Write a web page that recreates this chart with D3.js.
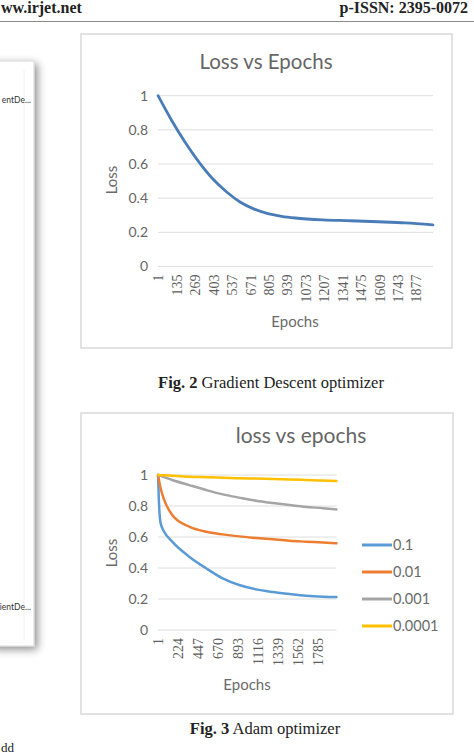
<!DOCTYPE html>
<html>
<head>
<meta charset="utf-8">
<script src="https://cdn.jsdelivr.net/npm/d3@7"></script>
<style>
  html, body { margin: 0; padding: 0; background: #fff; overflow: hidden; }
  svg { display: block; }
  .sans { font-family: Lato, "Open Sans", sans-serif; fill: #6b6b6b; }
  .serif { font-family: "Liberation Serif", "DejaVu Serif", serif; fill: #222; }
</style>
</head>
<body>
<div id="page"></div>
<script>
// Fig. 2 - gradient descent
var gdEpochs = [1, 100, 200, 300, 400, 500, 600, 700, 800, 900, 1000, 1200, 1400, 1600, 1800, 2000];
var gdLoss   = [1.0, 0.855, 0.725, 0.61, 0.512, 0.436, 0.376, 0.336, 0.31, 0.294, 0.284, 0.273, 0.268, 0.262, 0.255, 0.244];
var gdTicks  = [1, 135, 269, 403, 537, 671, 805, 939, 1073, 1207, 1341, 1475, 1609, 1743, 1877];

// Fig. 3 - adam, one series per learning rate
var adamEpochs = [1, 10, 30, 70, 160, 350, 540, 725, 910, 1100, 1290, 1475, 1660, 1850, 2000];
var adamRates  = ['0.1', '0.01', '0.001', '0.0001'];
var adamLoss01    = [1.0, 0.84, 0.688, 0.634, 0.57, 0.473, 0.398, 0.333, 0.29, 0.262, 0.245, 0.232, 0.221, 0.215, 0.213];
var adamLoss001   = [1.0, 0.97, 0.914, 0.839, 0.742, 0.667, 0.634, 0.617, 0.604, 0.594, 0.585, 0.576, 0.57, 0.564, 0.559];
var adamLoss0001  = [1.0, 0.998, 0.994, 0.986, 0.968, 0.935, 0.903, 0.875, 0.854, 0.834, 0.819, 0.806, 0.794, 0.786, 0.778];
var adamLoss00001 = [1.0, 1.0, 0.999, 0.998, 0.995, 0.989, 0.986, 0.983, 0.979, 0.977, 0.974, 0.971, 0.968, 0.964, 0.961];
var adamTicks  = [1, 224, 447, 670, 893, 1116, 1339, 1562, 1785];

var yTicks = [0, 0.2, 0.4, 0.6, 0.8, 1];

var W = 474, H = 754;
var svg = d3.select('#page').append('svg').attr('width', W).attr('height', H);

// page furniture: running header, cut-off neighbour figure
svg.append('text').attr('class', 'serif').attr('x', 1).attr('y', 13)
  .attr('font-size', 16).attr('font-weight', 'bold').text('ww.irjet.net');
svg.append('text').attr('class', 'serif').attr('x', 468).attr('y', 13)
  .attr('font-size', 16).attr('font-weight', 'bold').attr('text-anchor', 'end').text('p-ISSN: 2395-0072');
svg.append('line').attr('x1', 0).attr('x2', W).attr('y1', 21.5).attr('y2', 21.5)
  .attr('stroke', '#8a8a8a').attr('stroke-width', 1.2);

var defs = svg.append('defs');
var f = defs.append('filter').attr('id', 'shadow').attr('x', '-30%').attr('y', '-10%')
  .attr('width', '160%').attr('height', '120%');
f.append('feGaussianBlur').attr('in', 'SourceAlpha').attr('stdDeviation', 4);
f.append('feOffset').attr('dx', 3).attr('dy', 3).attr('result', 'b');
f.append('feComponentTransfer').append('feFuncA').attr('type', 'linear').attr('slope', 0.45);
var m = f.append('feMerge');
m.append('feMergeNode');
m.append('feMergeNode').attr('in', 'SourceGraphic');

svg.append('rect').attr('x', -10).attr('y', 61).attr('width', 44).attr('height', 585)
  .attr('fill', '#fff').attr('stroke', '#d6d6d6').attr('filter', 'url(#shadow)');
svg.append('line').attr('x1', 24).attr('x2', 24).attr('y1', 70).attr('y2', 640)
  .attr('stroke', '#f0f0f0');
svg.append('text').attr('class', 'sans').attr('x', 31).attr('y', 103).attr('font-size', 8.5)
  .attr('text-anchor', 'end').style('fill', '#333').text('entDe...');
svg.append('text').attr('class', 'sans').attr('x', 31).attr('y', 610).attr('font-size', 8.5)
  .attr('text-anchor', 'end').style('fill', '#333').text('ientDe...');

svg.append('text').attr('class', 'serif').attr('x', 1).attr('y', 752).attr('font-size', 13).text('dd');

function drawChart(cfg) {
  var g = svg.append('g');

  g.append('rect').attr('x', cfg.box[0]).attr('y', cfg.box[1])
    .attr('width', cfg.box[2]).attr('height', cfg.box[3])
    .attr('fill', '#fff').attr('stroke', '#d9d9d9').attr('stroke-width', 1.5);

  var x = d3.scaleLinear().domain([0.5, 2000.5]).range([cfg.left, cfg.right]);
  var y = d3.scaleLinear().domain([0, 1]).range([cfg.bottom, cfg.top]);

  // gridlines
  g.append('g').selectAll('line').data(yTicks).join('line')
    .attr('x1', cfg.left).attr('x2', cfg.right)
    .attr('y1', function(d) { return y(d); }).attr('y2', function(d) { return y(d); })
    .attr('stroke', '#dedede').attr('stroke-width', 1);

  // y axis labels
  var ya = g.append('g').attr('transform', 'translate(' + (cfg.left - 4) + ',0)')
    .call(d3.axisLeft(y).tickValues(yTicks).tickSize(0).tickPadding(6)
      .tickFormat(function(d) { return d === 0 || d === 1 ? d : d3.format('.1f')(d); }));
  ya.select('.domain').remove();
  ya.selectAll('text').attr('class', 'sans').attr('font-size', 14)
    .style('fill', '#666');

  // x axis labels, rotated like excel
  var xa = g.append('g').attr('transform', 'translate(0,' + cfg.bottom + ')')
    .call(d3.axisBottom(x).tickValues(cfg.ticks).tickSize(0).tickFormat(d3.format('d')));
  xa.select('.domain').remove();
  xa.selectAll('text').attr('class', 'serif').attr('font-size', 14)
    .style('fill', '#5e5e5e')
    .attr('transform', 'rotate(-90)')
    .attr('text-anchor', 'end')
    .attr('x', -8).attr('y', 0).attr('dy', '0.35em');

  g.append('text').attr('class', 'sans').attr('font-size', cfg.titleSize)
    .attr('x', cfg.title[0]).attr('y', cfg.title[1]).attr('text-anchor', 'middle')
    .style('fill', '#666').text(cfg.titleText);
  g.append('text').attr('class', 'sans').attr('font-size', 15)
    .attr('transform', 'translate(' + cfg.yLab[0] + ',' + cfg.yLab[1] + ') rotate(-90)')
    .attr('text-anchor', 'middle').attr('dy', '0.35em').text('Loss');
  g.append('text').attr('class', 'sans').attr('font-size', 15)
    .attr('x', cfg.xLab[0]).attr('y', cfg.xLab[1]).attr('text-anchor', 'middle')
    .attr('dy', '0.35em').text('Epochs');

  var line = d3.line()
    .x(function(d) { return x(d[0]); })
    .y(function(d) { return y(d[1]); })
    .curve(d3.curveMonotoneX);

  cfg.series.forEach(function(s) {
    g.append('path').attr('d', line(d3.zip(cfg.epochs, s.values)))
      .attr('fill', 'none').attr('stroke', s.color).attr('stroke-width', s.width)
      .attr('stroke-linecap', 'round').attr('stroke-linejoin', 'round');
  });

  if (cfg.legend) {
    var lg = g.append('g').selectAll('g').data(cfg.series).join('g')
      .attr('transform', function(d, i) {
        return 'translate(' + cfg.legend[0] + ',' + (cfg.legend[1] + i * 27) + ')';
      });
    lg.append('line').attr('x1', 0).attr('x2', 30)
      .attr('stroke', function(d) { return d.color; }).attr('stroke-width', 3);
    lg.append('text').attr('class', 'sans').attr('x', 31).attr('dy', '0.35em')
      .attr('font-size', 14.5).text(function(d) { return d.name; });
  }
}

drawChart({
  box: [81, 34, 371, 314],
  left: 158, right: 433, top: 95.7, bottom: 266.5,
  ticks: gdTicks,
  epochs: gdEpochs,
  titleText: 'Loss vs Epochs', title: [266, 69], titleSize: 20.5,
  yLab: [112, 180], xLab: [295, 322],
  series: [{ name: 'loss', values: gdLoss, color: '#4a7cb8', width: 2.8 }]
});

var adamColors = ['#5b9bd5', '#ed7d31', '#a5a5a5', '#ffc000'];
var adamValues = [adamLoss01, adamLoss001, adamLoss0001, adamLoss00001];

drawChart({
  box: [81, 413, 372, 301],
  left: 158, right: 336.5, top: 475, bottom: 630,
  ticks: adamTicks,
  epochs: adamEpochs,
  titleText: 'loss vs epochs', title: [301, 443], titleSize: 21,
  yLab: [112, 553], xLab: [247, 685],
  legend: [362, 545],
  series: adamRates.map(function(r, i) {
    return { name: r, values: adamValues[i], color: adamColors[i], width: 2.5 };
  })
});

// figure captions
function caption(cx, cy, num, rest) {
  var t = svg.append('text').attr('class', 'serif').attr('x', cx).attr('y', cy)
    .attr('font-size', 16.5).attr('text-anchor', 'middle');
  t.append('tspan').attr('font-weight', 'bold').text(num);
  t.append('tspan').text(' ' + rest);
}
caption(271, 388, 'Fig. 2', 'Gradient Descent optimizer');
caption(265, 734, 'Fig. 3', 'Adam optimizer');
</script>
</body>
</html>
